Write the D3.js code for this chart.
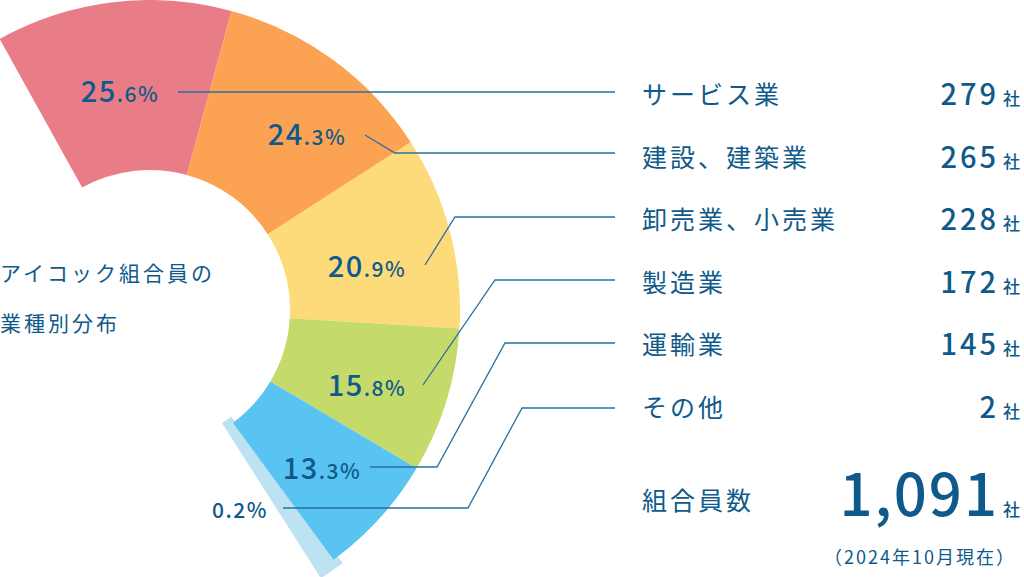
<!DOCTYPE html><html><head><meta charset="utf-8">
<script src="https://cdn.jsdelivr.net/npm/d3@7"></script>
<style>body{margin:0;background:#fff}text{font-family:"Noto Sans CJK JP","Noto Sans",sans-serif}</style></head><body>
<svg id="c" width="1024" height="577"></svg>
<script>
const categories=["サービス業","建設、建築業","卸売業、小売業","製造業","運輸業","その他"];
const counts=[279,265,228,172,145,2];
const percents=["25.6","24.3","20.9","15.8","13.3","0.2"];
const colors=["#e97d87","#fca253","#fedb7a","#c4da6b","#59c3f1","#bde3f2"];
const total="1,091";
const ink="#0f5a8a", lineC="#2a6f9e";
const svg=d3.select("#c");
const cx=150, cy=310, deg=Math.PI/180;
const pie=d3.pie().sort(null).value(d=>d).startAngle(-29*deg).endAngle(144*deg);
const arcs=pie(counts);
const arc=d3.arc().innerRadius(140).outerRadius(310);
const g=svg.append("g").attr("transform",`translate(${cx},${cy})`);
const last=arcs[5];
g.append("path").attr("fill",colors[5]).attr("d",d3.arc().innerRadius(134).outerRadius(318)({startAngle:last.startAngle-1*deg,endAngle:last.endAngle+3.5*deg}));
arcs.slice(0,5).forEach((a,i)=>g.append("path").attr("fill",colors[i]).attr("d",arc(a)));
const rowY=d3.scalePoint().domain(d3.range(6)).range([95,408]);
categories.forEach((c,i)=>{
  const y=rowY(i);
  svg.append("text").attr("x",642).attr("y",y+9).attr("font-size",25).attr("fill",ink).attr("letter-spacing",3).text(c);
  const t=svg.append("text").attr("x",1020).attr("y",y+10).attr("text-anchor","end").attr("fill",ink).attr("font-weight",500);
  t.append("tspan").attr("font-size",29).attr("letter-spacing",3).text(counts[i]);
  t.append("tspan").attr("font-size",17).attr("dx",4).text("社");
});
const lab=[[120,92],[307,135],[367,267],[367,386],[322,469],[240,508]];
const leaders=[
 [[178,92],[615,92]],
 [[365,135],[395,153],[615,153]],
 [[425,265],[455,217],[615,217]],
 [[423,385],[495,280],[615,280]],
 [[370,467],[437,467],[505,343],[615,343]],
 [[283,508],[468,508],[522,408],[615,408]]];
percents.forEach((p,i)=>{
  const [a,b]=p.split(".");
  const t=svg.append("text").attr("x",lab[i][0]).attr("y",lab[i][1]+10).attr("text-anchor","middle").attr("fill",ink).attr("letter-spacing",1.5).attr("font-weight",500);
  t.append("tspan").attr("font-size",i==5?21:29).text(a);
  t.append("tspan").attr("font-size",21).text("."+b+"%");
  svg.append("path").attr("d",d3.line()(leaders[i])).attr("fill","none").attr("stroke",lineC).attr("stroke-width",1.3);
});
svg.append("text").attr("x",0).attr("y",281).attr("font-size",21).attr("fill",ink).attr("letter-spacing",3).text("アイコック組合員の");
svg.append("text").attr("x",0).attr("y",331).attr("font-size",21).attr("fill",ink).attr("letter-spacing",3).text("業種別分布");
svg.append("text").attr("x",642).attr("y",510).attr("font-size",25).attr("fill",ink).attr("letter-spacing",3).text("組合員数");
const tt=svg.append("text").attr("x",1020).attr("y",516).attr("text-anchor","end").attr("fill",ink).attr("font-weight",500);
tt.append("tspan").attr("font-size",58).attr("letter-spacing",2).text(total);
tt.append("tspan").attr("font-size",17).attr("dx",4).text("社");
svg.append("text").attr("x",1016).attr("y",564).attr("text-anchor","end").attr("font-size",18).attr("fill",ink).attr("letter-spacing",2).text("（2024年10月現在）");
</script></body></html>
